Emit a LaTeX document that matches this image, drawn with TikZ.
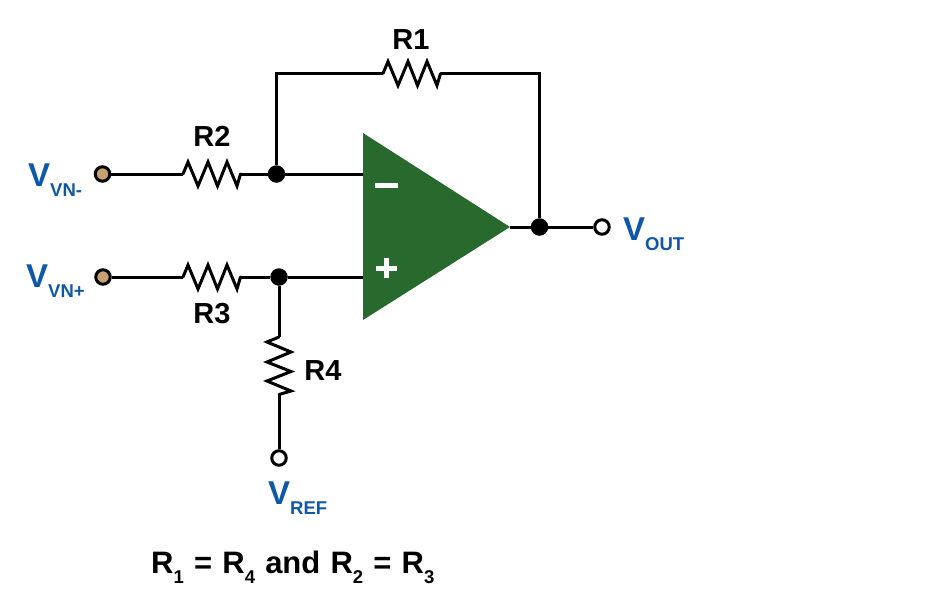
\documentclass[tikz,border=0pt]{standalone}
\usepackage{fontspec}
\setmainfont{Liberation Sans}
\definecolor{ampgreen}{HTML}{286A2E}
\definecolor{vblue}{HTML}{0F58A8}
\definecolor{tan}{HTML}{C8A26E}
\newcommand{\bigf}{\fontsize{29}{29}\selectfont\bfseries}
\newcommand{\eqf}{\fontsize{31}{31}\selectfont\bfseries}
\newcommand{\subf}{\fontsize{18.5}{18.5}\selectfont\bfseries}
\newcommand{\vlab}[1]{{\fontsize{33}{33}\selectfont\bfseries V}\raisebox{-10.7pt}{\subf #1}}
\newcommand{\rsub}[1]{\raisebox{-10.7pt}{\fontsize{18.5}{18.5}\selectfont\bfseries #1}}
\newcommand{\gap}{\hspace{10.2pt}}
\tikzset{
  x=1pt,y=-1pt,
  wire/.style={line width=3pt,black,line join=miter},
  zig/.style={line width=3pt,black,line join=miter,line cap=round},
  term/.style={circle,draw=black,line width=3pt,minimum size=14.5pt,inner sep=0pt},
  tanterm/.style={term,fill=tan},
  openterm/.style={term,fill=white},
  junction/.style={circle,fill=black,minimum size=17.5pt,inner sep=0pt},
  rlabel/.style={inner sep=0pt,font=\bigf,text=black},
  vlabel/.style={inner sep=0pt,anchor=base west,text=vblue},
  pt/.style={coordinate}
}
\begin{document}
\begin{tikzpicture}
\useasboundingbox (0,0) rectangle (950,608);
% op amp
\node[pt] (ta) at (363,133) {};
\node[pt] (tb) at (363,320) {};
\node[pt] (tc) at (510,227) {};
\fill[ampgreen] (ta.center) -- (tc.center) -- (tb.center) -- cycle;
\fill[white] (375,182.5) rectangle (398,187.5);
\fill[white] (376,265.5) rectangle (397,270.5);
\fill[white] (384,258) rectangle (389,278);
% coordinates
\node[tanterm] (vnm) at (102.5,174) {};
\node[tanterm] (vnp) at (103,277) {};
\node[openterm] (vout) at (602,227) {};
\node[openterm] (vref) at (279,458) {};
\node[junction] (j1) at (276.5,174) {};
\node[junction] (j2) at (279,277) {};
\node[junction] (j3) at (539.5,227) {};
\node[pt] (inm) at (363,174) {};
\node[pt] (inp) at (363,277) {};
\node[pt] (tl) at (276.5,73.5) {};
\node[pt] (tr) at (539.5,73.5) {};
\node[pt] (r1a) at (383,73.5) {};
\node[pt] (r1b) at (441,73.5) {};
\node[pt] (r2a) at (183,174) {};
\node[pt] (r2b) at (241,174) {};
\node[pt] (r3a) at (183,277) {};
\node[pt] (r3b) at (241,277) {};
\node[pt] (r4a) at (279,337) {};
\node[pt] (r4b) at (279,395) {};
% wires
\draw[wire] (vnm) -- (r2a);
\draw[wire] (r2b) -- (j1);
\draw[wire] (j1) -- (inm);
\draw[wire] (j1) -- (tl.center) -- (r1a);
\draw[wire] (r1b) -- (tr.center) -- (j3);
\draw[wire] (tc) -- (j3);
\draw[wire] (j3) -- (vout);
\draw[wire] (vnp) -- (r3a);
\draw[wire] (r3b) -- (j2);
\draw[wire] (j2) -- (inp);
\draw[wire] (j2) -- (r4a);
\draw[wire] (r4b) -- (vref);
% resistors
\foreach \s in {r1a,r2a,r3a}
  \draw[zig] (\s) -- ++(5,-12) -- ++(10,24) -- ++(10,-24) -- ++(9.5,24) -- ++(9.5,-24) -- ++(10,24) -- ++(3.5,-12);
\draw[zig] (r4a) -- ++(-12,5) -- ++(24,10) -- ++(-24,10) -- ++(24,9.5) -- ++(-24,9.5) -- ++(24,10) -- ++(-12,3.5);
% labels
\node[rlabel] (lr1) at (411,39.5) {R1};
\node[rlabel] (lr2) at (212,136.5) {R2};
\node[rlabel] (lr3) at (212,313.5) {R3};
\node[rlabel] (lr4) at (323,370.5) {R4};
\node[vlabel] (lvnm) at (28,186) {\vlab{VN-}};
\node[vlabel] (lvnp) at (26,287) {\vlab{VN+}};
\node[vlabel] (lvout) at (623,240) {\vlab{OUT}};
\node[vlabel] (lvref) at (268,504) {\vlab{REF}};
\node[inner sep=0pt,anchor=base west,text=black] (eq) at (151,573)
  {\eqf R\rsub{1}\gap=\gap R\rsub{4}\gap and\gap R\rsub{2}\gap=\gap R\rsub{3}};
\end{tikzpicture}
\end{document}
